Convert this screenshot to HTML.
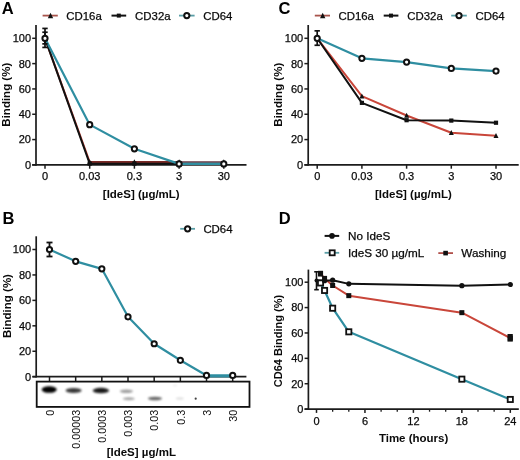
<!DOCTYPE html>
<html><head><meta charset="utf-8"><style>
html,body{margin:0;padding:0;background:#fff;}
body{width:520px;height:460px;overflow:hidden;font-family:"Liberation Sans", sans-serif;}
svg{display:block;will-change:transform;}
</style></head><body>
<svg width="520" height="460" viewBox="0 0 520 460" font-family='"Liberation Sans", sans-serif'>
<rect width="520" height="460" fill="#fff"/>
<text x="1.70" y="13.90" font-size="16.5" font-weight="bold" text-anchor="start" fill="#000" >A</text>
<line x1="42.60" y1="15.60" x2="57.80" y2="15.60" stroke="#a8544c" stroke-width="1.8" />
<polygon points="50.50,12.83 53.20,18.23 47.80,18.23" fill="#111"/>
<text x="66.30" y="19.80" font-size="11.4" font-weight="normal" text-anchor="start" fill="#0a0a0a" stroke="#0a0a0a" stroke-width="0.25" >CD16a</text>
<line x1="111.50" y1="15.60" x2="126.20" y2="15.60" stroke="#111" stroke-width="2.0" />
<rect x="116.80" y="13.60" width="4.0" height="4.0" fill="#111"/>
<text x="135.10" y="19.80" font-size="11.4" font-weight="normal" text-anchor="start" fill="#0a0a0a" stroke="#0a0a0a" stroke-width="0.25" >CD32a</text>
<line x1="179.00" y1="15.60" x2="194.60" y2="15.60" stroke="#5a9ea6" stroke-width="1.8" />
<circle cx="186.80" cy="15.60" r="2.6" fill="#fff" stroke="#111" stroke-width="2.0"/>
<text x="203.30" y="19.80" font-size="11.4" font-weight="normal" text-anchor="start" fill="#0a0a0a" stroke="#0a0a0a" stroke-width="0.25" >CD64</text>
<line x1="36.00" y1="25.00" x2="36.00" y2="165.70" stroke="#1c1c1c" stroke-width="1.7" />
<line x1="32.20" y1="164.90" x2="246.50" y2="164.90" stroke="#1c1c1c" stroke-width="1.8" />
<line x1="32.20" y1="164.90" x2="36.00" y2="164.90" stroke="#1c1c1c" stroke-width="1.5" />
<text x="31.00" y="168.80" font-size="11" font-weight="normal" text-anchor="end" fill="#0a0a0a" stroke="#0a0a0a" stroke-width="0.25" >0</text>
<line x1="32.20" y1="139.58" x2="36.00" y2="139.58" stroke="#1c1c1c" stroke-width="1.5" />
<text x="31.00" y="143.48" font-size="11" font-weight="normal" text-anchor="end" fill="#0a0a0a" stroke="#0a0a0a" stroke-width="0.25" >20</text>
<line x1="32.20" y1="114.26" x2="36.00" y2="114.26" stroke="#1c1c1c" stroke-width="1.5" />
<text x="31.00" y="118.16" font-size="11" font-weight="normal" text-anchor="end" fill="#0a0a0a" stroke="#0a0a0a" stroke-width="0.25" >40</text>
<line x1="32.20" y1="88.94" x2="36.00" y2="88.94" stroke="#1c1c1c" stroke-width="1.5" />
<text x="31.00" y="92.84" font-size="11" font-weight="normal" text-anchor="end" fill="#0a0a0a" stroke="#0a0a0a" stroke-width="0.25" >60</text>
<line x1="32.20" y1="63.62" x2="36.00" y2="63.62" stroke="#1c1c1c" stroke-width="1.5" />
<text x="31.00" y="67.52" font-size="11" font-weight="normal" text-anchor="end" fill="#0a0a0a" stroke="#0a0a0a" stroke-width="0.25" >80</text>
<line x1="32.20" y1="38.30" x2="36.00" y2="38.30" stroke="#1c1c1c" stroke-width="1.5" />
<text x="31.00" y="42.20" font-size="11" font-weight="normal" text-anchor="end" fill="#0a0a0a" stroke="#0a0a0a" stroke-width="0.25" >100</text>
<line x1="45.00" y1="164.90" x2="45.00" y2="168.70" stroke="#1c1c1c" stroke-width="1.5" />
<text x="45.00" y="180.20" font-size="11" font-weight="normal" text-anchor="middle" fill="#0a0a0a" stroke="#0a0a0a" stroke-width="0.25" >0</text>
<line x1="89.70" y1="164.90" x2="89.70" y2="168.70" stroke="#1c1c1c" stroke-width="1.5" />
<text x="89.70" y="180.20" font-size="11" font-weight="normal" text-anchor="middle" fill="#0a0a0a" stroke="#0a0a0a" stroke-width="0.25" >0.03</text>
<line x1="134.40" y1="164.90" x2="134.40" y2="168.70" stroke="#1c1c1c" stroke-width="1.5" />
<text x="134.40" y="180.20" font-size="11" font-weight="normal" text-anchor="middle" fill="#0a0a0a" stroke="#0a0a0a" stroke-width="0.25" >0.3</text>
<line x1="179.10" y1="164.90" x2="179.10" y2="168.70" stroke="#1c1c1c" stroke-width="1.5" />
<text x="179.10" y="180.20" font-size="11" font-weight="normal" text-anchor="middle" fill="#0a0a0a" stroke="#0a0a0a" stroke-width="0.25" >3</text>
<line x1="223.80" y1="164.90" x2="223.80" y2="168.70" stroke="#1c1c1c" stroke-width="1.5" />
<text x="223.80" y="180.20" font-size="11" font-weight="normal" text-anchor="middle" fill="#0a0a0a" stroke="#0a0a0a" stroke-width="0.25" >30</text>
<text x="141.25" y="198.20" font-size="11.5" font-weight="bold" text-anchor="middle" fill="#0a0a0a" >[IdeS] (µg/mL)</text>
<text x="0" y="0" font-size="11.5" font-weight="bold" text-anchor="middle" fill="#0a0a0a" transform="translate(10.30,94.7) rotate(-90)">Binding (%)</text>
<polyline points="45.00,38.30 89.70,161.99 134.40,161.99 179.10,161.99 223.80,161.99" fill="none" stroke="#c9463a" stroke-width="2.0" stroke-linejoin="round"/>
<polyline points="89.70,161.99 134.40,161.99 179.10,161.99" fill="none" stroke="#7a2a26" stroke-width="2.0" stroke-linejoin="round"/>
<polyline points="179.10,161.99 223.80,161.99" fill="none" stroke="#8c6872" stroke-width="2.0" stroke-linejoin="round"/>
<polyline points="45.00,38.30 89.70,163.63 134.40,163.63 179.10,163.63 223.80,163.63" fill="none" stroke="#111" stroke-width="2.0" stroke-linejoin="round"/>
<polyline points="45.00,38.30 89.70,124.64 134.40,148.82 179.10,163.89 223.80,163.89" fill="none" stroke="#2f8ea1" stroke-width="2.2" stroke-linejoin="round"/>
<line x1="45.00" y1="28.43" x2="45.00" y2="47.42" stroke="#111" stroke-width="1.7" />
<line x1="42.30" y1="28.43" x2="47.70" y2="28.43" stroke="#111" stroke-width="1.7" />
<line x1="42.30" y1="47.42" x2="47.70" y2="47.42" stroke="#111" stroke-width="1.7" />
<line x1="45.00" y1="32.22" x2="45.00" y2="43.87" stroke="#111" stroke-width="1.7" />
<line x1="42.30" y1="32.22" x2="47.70" y2="32.22" stroke="#111" stroke-width="1.7" />
<line x1="42.30" y1="43.87" x2="47.70" y2="43.87" stroke="#111" stroke-width="1.7" />
<rect x="42.90" y="36.20" width="4.2" height="4.2" fill="#111"/>
<rect x="87.60" y="161.53" width="4.2" height="4.2" fill="#111"/>
<rect x="132.30" y="161.53" width="4.2" height="4.2" fill="#111"/>
<rect x="177.00" y="161.53" width="4.2" height="4.2" fill="#111"/>
<rect x="221.70" y="161.53" width="4.2" height="4.2" fill="#111"/>
<polygon points="45.00,35.55 47.50,40.55 42.50,40.55" fill="#111"/>
<polygon points="89.70,159.24 92.20,164.24 87.20,164.24" fill="#111"/>
<polygon points="134.40,159.24 136.90,164.24 131.90,164.24" fill="#111"/>
<polygon points="179.10,159.24 181.60,164.24 176.60,164.24" fill="#111"/>
<polygon points="223.80,159.24 226.30,164.24 221.30,164.24" fill="#111"/>
<circle cx="45.00" cy="38.30" r="2.6" fill="#fff" stroke="#111" stroke-width="2.0"/>
<circle cx="89.70" cy="124.64" r="2.6" fill="#fff" stroke="#111" stroke-width="2.0"/>
<circle cx="134.40" cy="148.82" r="2.6" fill="#fff" stroke="#111" stroke-width="2.0"/>
<circle cx="179.10" cy="163.89" r="2.6" fill="#fff" stroke="#111" stroke-width="2.0"/>
<circle cx="223.80" cy="163.89" r="2.6" fill="#fff" stroke="#111" stroke-width="2.0"/>
<text x="278.50" y="13.90" font-size="16.5" font-weight="bold" text-anchor="start" fill="#000" >C</text>
<line x1="314.80" y1="15.60" x2="330.00" y2="15.60" stroke="#a8544c" stroke-width="1.8" />
<polygon points="322.70,12.83 325.40,18.23 320.00,18.23" fill="#111"/>
<text x="338.50" y="19.80" font-size="11.4" font-weight="normal" text-anchor="start" fill="#0a0a0a" stroke="#0a0a0a" stroke-width="0.25" >CD16a</text>
<line x1="383.70" y1="15.60" x2="398.40" y2="15.60" stroke="#111" stroke-width="2.0" />
<rect x="389.00" y="13.60" width="4.0" height="4.0" fill="#111"/>
<text x="407.30" y="19.80" font-size="11.4" font-weight="normal" text-anchor="start" fill="#0a0a0a" stroke="#0a0a0a" stroke-width="0.25" >CD32a</text>
<line x1="451.20" y1="15.60" x2="466.80" y2="15.60" stroke="#5a9ea6" stroke-width="1.8" />
<circle cx="459.00" cy="15.60" r="2.6" fill="#fff" stroke="#111" stroke-width="2.0"/>
<text x="475.50" y="19.80" font-size="11.4" font-weight="normal" text-anchor="start" fill="#0a0a0a" stroke="#0a0a0a" stroke-width="0.25" >CD64</text>
<line x1="308.20" y1="25.00" x2="308.20" y2="165.70" stroke="#1c1c1c" stroke-width="1.7" />
<line x1="304.40" y1="164.90" x2="518.70" y2="164.90" stroke="#1c1c1c" stroke-width="1.8" />
<line x1="304.40" y1="164.90" x2="308.20" y2="164.90" stroke="#1c1c1c" stroke-width="1.5" />
<text x="303.20" y="168.80" font-size="11" font-weight="normal" text-anchor="end" fill="#0a0a0a" stroke="#0a0a0a" stroke-width="0.25" >0</text>
<line x1="304.40" y1="139.58" x2="308.20" y2="139.58" stroke="#1c1c1c" stroke-width="1.5" />
<text x="303.20" y="143.48" font-size="11" font-weight="normal" text-anchor="end" fill="#0a0a0a" stroke="#0a0a0a" stroke-width="0.25" >20</text>
<line x1="304.40" y1="114.26" x2="308.20" y2="114.26" stroke="#1c1c1c" stroke-width="1.5" />
<text x="303.20" y="118.16" font-size="11" font-weight="normal" text-anchor="end" fill="#0a0a0a" stroke="#0a0a0a" stroke-width="0.25" >40</text>
<line x1="304.40" y1="88.94" x2="308.20" y2="88.94" stroke="#1c1c1c" stroke-width="1.5" />
<text x="303.20" y="92.84" font-size="11" font-weight="normal" text-anchor="end" fill="#0a0a0a" stroke="#0a0a0a" stroke-width="0.25" >60</text>
<line x1="304.40" y1="63.62" x2="308.20" y2="63.62" stroke="#1c1c1c" stroke-width="1.5" />
<text x="303.20" y="67.52" font-size="11" font-weight="normal" text-anchor="end" fill="#0a0a0a" stroke="#0a0a0a" stroke-width="0.25" >80</text>
<line x1="304.40" y1="38.30" x2="308.20" y2="38.30" stroke="#1c1c1c" stroke-width="1.5" />
<text x="303.20" y="42.20" font-size="11" font-weight="normal" text-anchor="end" fill="#0a0a0a" stroke="#0a0a0a" stroke-width="0.25" >100</text>
<line x1="317.20" y1="164.90" x2="317.20" y2="168.70" stroke="#1c1c1c" stroke-width="1.5" />
<text x="317.20" y="180.20" font-size="11" font-weight="normal" text-anchor="middle" fill="#0a0a0a" stroke="#0a0a0a" stroke-width="0.25" >0</text>
<line x1="361.90" y1="164.90" x2="361.90" y2="168.70" stroke="#1c1c1c" stroke-width="1.5" />
<text x="361.90" y="180.20" font-size="11" font-weight="normal" text-anchor="middle" fill="#0a0a0a" stroke="#0a0a0a" stroke-width="0.25" >0.03</text>
<line x1="406.60" y1="164.90" x2="406.60" y2="168.70" stroke="#1c1c1c" stroke-width="1.5" />
<text x="406.60" y="180.20" font-size="11" font-weight="normal" text-anchor="middle" fill="#0a0a0a" stroke="#0a0a0a" stroke-width="0.25" >0.3</text>
<line x1="451.30" y1="164.90" x2="451.30" y2="168.70" stroke="#1c1c1c" stroke-width="1.5" />
<text x="451.30" y="180.20" font-size="11" font-weight="normal" text-anchor="middle" fill="#0a0a0a" stroke="#0a0a0a" stroke-width="0.25" >3</text>
<line x1="496.00" y1="164.90" x2="496.00" y2="168.70" stroke="#1c1c1c" stroke-width="1.5" />
<text x="496.00" y="180.20" font-size="11" font-weight="normal" text-anchor="middle" fill="#0a0a0a" stroke="#0a0a0a" stroke-width="0.25" >30</text>
<text x="413.45" y="198.20" font-size="11.5" font-weight="bold" text-anchor="middle" fill="#0a0a0a" >[IdeS] (µg/mL)</text>
<text x="0" y="0" font-size="11.5" font-weight="bold" text-anchor="middle" fill="#0a0a0a" transform="translate(281.60,94.7) rotate(-90)">Binding (%)</text>
<polyline points="317.20,38.30 361.90,96.16 406.60,115.53 451.30,132.74 496.00,135.66" fill="none" stroke="#c9463a" stroke-width="2.0" stroke-linejoin="round"/>
<polyline points="317.20,38.30 361.90,102.87 406.60,120.21 451.30,120.59 496.00,122.74" fill="none" stroke="#111" stroke-width="2.0" stroke-linejoin="round"/>
<polyline points="317.20,38.30 361.90,58.30 406.60,62.10 451.30,68.43 496.00,71.09" fill="none" stroke="#2f8ea1" stroke-width="2.2" stroke-linejoin="round"/>
<line x1="317.20" y1="30.83" x2="317.20" y2="45.26" stroke="#111" stroke-width="1.7" />
<line x1="314.50" y1="30.83" x2="319.90" y2="30.83" stroke="#111" stroke-width="1.7" />
<line x1="314.50" y1="45.26" x2="319.90" y2="45.26" stroke="#111" stroke-width="1.7" />
<rect x="315.10" y="36.20" width="4.2" height="4.2" fill="#111"/>
<rect x="359.80" y="100.77" width="4.2" height="4.2" fill="#111"/>
<rect x="404.50" y="118.11" width="4.2" height="4.2" fill="#111"/>
<rect x="449.20" y="118.49" width="4.2" height="4.2" fill="#111"/>
<rect x="493.90" y="120.64" width="4.2" height="4.2" fill="#111"/>
<polygon points="317.20,35.55 319.70,40.55 314.70,40.55" fill="#111"/>
<polygon points="361.90,93.41 364.40,98.41 359.40,98.41" fill="#111"/>
<polygon points="406.60,112.78 409.10,117.78 404.10,117.78" fill="#111"/>
<polygon points="451.30,129.99 453.80,134.99 448.80,134.99" fill="#111"/>
<polygon points="496.00,132.91 498.50,137.91 493.50,137.91" fill="#111"/>
<circle cx="317.20" cy="38.30" r="2.6" fill="#fff" stroke="#111" stroke-width="2.0"/>
<circle cx="361.90" cy="58.30" r="2.6" fill="#fff" stroke="#111" stroke-width="2.0"/>
<circle cx="406.60" cy="62.10" r="2.6" fill="#fff" stroke="#111" stroke-width="2.0"/>
<circle cx="451.30" cy="68.43" r="2.6" fill="#fff" stroke="#111" stroke-width="2.0"/>
<circle cx="496.00" cy="71.09" r="2.6" fill="#fff" stroke="#111" stroke-width="2.0"/>
<text x="2.60" y="224.00" font-size="16.5" font-weight="bold" text-anchor="start" fill="#000" >B</text>
<line x1="180.20" y1="228.80" x2="195.00" y2="228.80" stroke="#5a9ea6" stroke-width="1.8" />
<circle cx="187.60" cy="228.80" r="2.6" fill="#fff" stroke="#111" stroke-width="2.0"/>
<text x="203.40" y="232.90" font-size="11.4" font-weight="normal" text-anchor="start" fill="#0a0a0a" stroke="#0a0a0a" stroke-width="0.25" >CD64</text>
<line x1="36.20" y1="236.30" x2="36.20" y2="377.50" stroke="#1c1c1c" stroke-width="1.7" />
<line x1="32.40" y1="376.70" x2="246.40" y2="376.70" stroke="#1c1c1c" stroke-width="1.8" />
<line x1="32.40" y1="376.70" x2="36.20" y2="376.70" stroke="#1c1c1c" stroke-width="1.5" />
<text x="31.20" y="380.60" font-size="11" font-weight="normal" text-anchor="end" fill="#0a0a0a" stroke="#0a0a0a" stroke-width="0.25" >0</text>
<line x1="32.40" y1="351.26" x2="36.20" y2="351.26" stroke="#1c1c1c" stroke-width="1.5" />
<text x="31.20" y="355.16" font-size="11" font-weight="normal" text-anchor="end" fill="#0a0a0a" stroke="#0a0a0a" stroke-width="0.25" >20</text>
<line x1="32.40" y1="325.82" x2="36.20" y2="325.82" stroke="#1c1c1c" stroke-width="1.5" />
<text x="31.20" y="329.72" font-size="11" font-weight="normal" text-anchor="end" fill="#0a0a0a" stroke="#0a0a0a" stroke-width="0.25" >40</text>
<line x1="32.40" y1="300.38" x2="36.20" y2="300.38" stroke="#1c1c1c" stroke-width="1.5" />
<text x="31.20" y="304.28" font-size="11" font-weight="normal" text-anchor="end" fill="#0a0a0a" stroke="#0a0a0a" stroke-width="0.25" >60</text>
<line x1="32.40" y1="274.94" x2="36.20" y2="274.94" stroke="#1c1c1c" stroke-width="1.5" />
<text x="31.20" y="278.84" font-size="11" font-weight="normal" text-anchor="end" fill="#0a0a0a" stroke="#0a0a0a" stroke-width="0.25" >80</text>
<line x1="32.40" y1="249.50" x2="36.20" y2="249.50" stroke="#1c1c1c" stroke-width="1.5" />
<text x="31.20" y="253.40" font-size="11" font-weight="normal" text-anchor="end" fill="#0a0a0a" stroke="#0a0a0a" stroke-width="0.25" >100</text>
<line x1="49.50" y1="376.70" x2="49.50" y2="381.00" stroke="#1c1c1c" stroke-width="1.5" />
<line x1="75.67" y1="376.70" x2="75.67" y2="381.00" stroke="#1c1c1c" stroke-width="1.5" />
<line x1="101.84" y1="376.70" x2="101.84" y2="381.00" stroke="#1c1c1c" stroke-width="1.5" />
<line x1="128.01" y1="376.70" x2="128.01" y2="381.00" stroke="#1c1c1c" stroke-width="1.5" />
<line x1="154.18" y1="376.70" x2="154.18" y2="381.00" stroke="#1c1c1c" stroke-width="1.5" />
<line x1="180.35" y1="376.70" x2="180.35" y2="381.00" stroke="#1c1c1c" stroke-width="1.5" />
<line x1="206.52" y1="376.70" x2="206.52" y2="381.00" stroke="#1c1c1c" stroke-width="1.5" />
<line x1="232.69" y1="376.70" x2="232.69" y2="381.00" stroke="#1c1c1c" stroke-width="1.5" />
<rect x="36.7" y="381.6" width="212.8" height="25.3" fill="#fff" stroke="#111" stroke-width="1.8"/>
<defs><filter id="bl" x="-50%" y="-100%" width="200%" height="300%"><feGaussianBlur stdDeviation="1.3"/></filter></defs>
<ellipse cx="49.20" cy="389.60" rx="7.50" ry="3.25" fill="#000" opacity="1.0" filter="url(#bl)"/>
<ellipse cx="73.60" cy="390.40" rx="8.00" ry="2.50" fill="#000" opacity="0.78" filter="url(#bl)"/>
<ellipse cx="100.90" cy="390.60" rx="8.25" ry="2.75" fill="#000" opacity="0.9" filter="url(#bl)"/>
<ellipse cx="126.40" cy="391.20" rx="6.50" ry="1.75" fill="#000" opacity="0.38" filter="url(#bl)"/>
<ellipse cx="128.80" cy="398.80" rx="6.00" ry="1.50" fill="#000" opacity="0.36" filter="url(#bl)"/>
<ellipse cx="155.00" cy="398.60" rx="7.00" ry="1.75" fill="#000" opacity="0.6" filter="url(#bl)"/>
<ellipse cx="179.80" cy="398.60" rx="4.00" ry="1.00" fill="#000" opacity="0.15" filter="url(#bl)"/>
<ellipse cx="175.00" cy="385.50" rx="2.00" ry="0.75" fill="#000" opacity="0.1" filter="url(#bl)"/>
<circle cx="195.7" cy="398.7" r="1.1" fill="#222" opacity="0.85"/>
<text x="0" y="0" font-size="10.8" text-anchor="end" fill="#0a0a0a" transform="translate(53.80,409.8) rotate(-90)">0</text>
<text x="0" y="0" font-size="10.8" text-anchor="end" fill="#0a0a0a" transform="translate(79.97,409.8) rotate(-90)">0.00003</text>
<text x="0" y="0" font-size="10.8" text-anchor="end" fill="#0a0a0a" transform="translate(106.14,409.8) rotate(-90)">0.0003</text>
<text x="0" y="0" font-size="10.8" text-anchor="end" fill="#0a0a0a" transform="translate(132.31,409.8) rotate(-90)">0.003</text>
<text x="0" y="0" font-size="10.8" text-anchor="end" fill="#0a0a0a" transform="translate(158.48,409.8) rotate(-90)">0.03</text>
<text x="0" y="0" font-size="10.8" text-anchor="end" fill="#0a0a0a" transform="translate(184.65,409.8) rotate(-90)">0.3</text>
<text x="0" y="0" font-size="10.8" text-anchor="end" fill="#0a0a0a" transform="translate(210.82,409.8) rotate(-90)">3</text>
<text x="0" y="0" font-size="10.8" text-anchor="end" fill="#0a0a0a" transform="translate(236.99,409.8) rotate(-90)">30</text>
<text x="141.30" y="456.00" font-size="11.5" font-weight="bold" text-anchor="middle" fill="#0a0a0a" >[IdeS] µg/mL</text>
<text x="0" y="0" font-size="11.5" font-weight="bold" text-anchor="middle" fill="#0a0a0a" transform="translate(11.4,306) rotate(-90)">Binding (%)</text>
<polyline points="49.50,249.50 75.67,261.33 101.84,268.83 128.01,316.79 154.18,343.76 180.35,360.29 206.52,375.43 232.69,375.43" fill="none" stroke="#2f8ea1" stroke-width="2.2" stroke-linejoin="round"/>
<line x1="206.52" y1="376.43" x2="232.69" y2="376.43" stroke="#2f8ea1" stroke-width="2.0" />
<line x1="49.50" y1="242.50" x2="49.50" y2="256.50" stroke="#111" stroke-width="1.8" />
<line x1="46.50" y1="242.50" x2="52.50" y2="242.50" stroke="#111" stroke-width="1.8" />
<line x1="46.50" y1="256.50" x2="52.50" y2="256.50" stroke="#111" stroke-width="1.8" />
<circle cx="49.50" cy="249.50" r="2.6" fill="#fff" stroke="#111" stroke-width="2.0"/>
<circle cx="75.67" cy="261.33" r="2.6" fill="#fff" stroke="#111" stroke-width="2.0"/>
<circle cx="101.84" cy="268.83" r="2.6" fill="#fff" stroke="#111" stroke-width="2.0"/>
<circle cx="128.01" cy="316.79" r="2.6" fill="#fff" stroke="#111" stroke-width="2.0"/>
<circle cx="154.18" cy="343.76" r="2.6" fill="#fff" stroke="#111" stroke-width="2.0"/>
<circle cx="180.35" cy="360.29" r="2.6" fill="#fff" stroke="#111" stroke-width="2.0"/>
<circle cx="206.52" cy="375.43" r="2.6" fill="#fff" stroke="#111" stroke-width="2.0"/>
<circle cx="232.69" cy="375.43" r="2.6" fill="#fff" stroke="#111" stroke-width="2.0"/>
<text x="278.80" y="224.20" font-size="16.5" font-weight="bold" text-anchor="start" fill="#000" >D</text>
<line x1="324.60" y1="235.90" x2="339.20" y2="235.90" stroke="#111" stroke-width="2.0" />
<circle cx="332.00" cy="235.90" r="2.8" fill="#111"/>
<text x="348.00" y="240.10" font-size="11.7" font-weight="normal" text-anchor="start" fill="#0a0a0a" stroke="#0a0a0a" stroke-width="0.25" >No IdeS</text>
<line x1="324.60" y1="252.80" x2="339.20" y2="252.80" stroke="#5a9ea6" stroke-width="1.8" />
<rect x="329.70" y="250.30" width="5.0" height="5.0" fill="#fff" stroke="#111" stroke-width="1.8"/>
<text x="348.00" y="257.10" font-size="11.7" font-weight="normal" text-anchor="start" fill="#0a0a0a" stroke="#0a0a0a" stroke-width="0.25" >IdeS 30 µg/mL</text>
<line x1="438.30" y1="253.10" x2="453.00" y2="253.10" stroke="#b0504a" stroke-width="1.8" />
<rect x="443.30" y="250.80" width="4.6" height="4.6" fill="#111"/>
<text x="461.30" y="256.90" font-size="11.7" font-weight="normal" text-anchor="start" fill="#0a0a0a" stroke="#0a0a0a" stroke-width="0.25" >Washing</text>
<line x1="308.40" y1="269.60" x2="308.40" y2="409.90" stroke="#1c1c1c" stroke-width="1.7" />
<line x1="304.60" y1="409.10" x2="518.80" y2="409.10" stroke="#1c1c1c" stroke-width="1.8" />
<line x1="304.60" y1="409.10" x2="308.40" y2="409.10" stroke="#1c1c1c" stroke-width="1.5" />
<text x="303.40" y="413.00" font-size="11" font-weight="normal" text-anchor="end" fill="#0a0a0a" stroke="#0a0a0a" stroke-width="0.25" >0</text>
<line x1="304.60" y1="383.72" x2="308.40" y2="383.72" stroke="#1c1c1c" stroke-width="1.5" />
<text x="303.40" y="387.62" font-size="11" font-weight="normal" text-anchor="end" fill="#0a0a0a" stroke="#0a0a0a" stroke-width="0.25" >20</text>
<line x1="304.60" y1="358.34" x2="308.40" y2="358.34" stroke="#1c1c1c" stroke-width="1.5" />
<text x="303.40" y="362.24" font-size="11" font-weight="normal" text-anchor="end" fill="#0a0a0a" stroke="#0a0a0a" stroke-width="0.25" >40</text>
<line x1="304.60" y1="332.96" x2="308.40" y2="332.96" stroke="#1c1c1c" stroke-width="1.5" />
<text x="303.40" y="336.86" font-size="11" font-weight="normal" text-anchor="end" fill="#0a0a0a" stroke="#0a0a0a" stroke-width="0.25" >60</text>
<line x1="304.60" y1="307.58" x2="308.40" y2="307.58" stroke="#1c1c1c" stroke-width="1.5" />
<text x="303.40" y="311.48" font-size="11" font-weight="normal" text-anchor="end" fill="#0a0a0a" stroke="#0a0a0a" stroke-width="0.25" >80</text>
<line x1="304.60" y1="282.20" x2="308.40" y2="282.20" stroke="#1c1c1c" stroke-width="1.5" />
<text x="303.40" y="286.10" font-size="11" font-weight="normal" text-anchor="end" fill="#0a0a0a" stroke="#0a0a0a" stroke-width="0.25" >100</text>
<line x1="316.50" y1="409.10" x2="316.50" y2="412.90" stroke="#1c1c1c" stroke-width="1.5" />
<text x="316.50" y="424.90" font-size="11" font-weight="normal" text-anchor="middle" fill="#0a0a0a" stroke="#0a0a0a" stroke-width="0.25" >0</text>
<line x1="332.65" y1="409.10" x2="332.65" y2="411.70" stroke="#1c1c1c" stroke-width="1.3" />
<line x1="348.80" y1="409.10" x2="348.80" y2="411.70" stroke="#1c1c1c" stroke-width="1.3" />
<line x1="364.95" y1="409.10" x2="364.95" y2="412.90" stroke="#1c1c1c" stroke-width="1.5" />
<text x="364.95" y="424.90" font-size="11" font-weight="normal" text-anchor="middle" fill="#0a0a0a" stroke="#0a0a0a" stroke-width="0.25" >6</text>
<line x1="381.10" y1="409.10" x2="381.10" y2="411.70" stroke="#1c1c1c" stroke-width="1.3" />
<line x1="397.25" y1="409.10" x2="397.25" y2="411.70" stroke="#1c1c1c" stroke-width="1.3" />
<line x1="413.40" y1="409.10" x2="413.40" y2="412.90" stroke="#1c1c1c" stroke-width="1.5" />
<text x="413.40" y="424.90" font-size="11" font-weight="normal" text-anchor="middle" fill="#0a0a0a" stroke="#0a0a0a" stroke-width="0.25" >12</text>
<line x1="429.55" y1="409.10" x2="429.55" y2="411.70" stroke="#1c1c1c" stroke-width="1.3" />
<line x1="445.70" y1="409.10" x2="445.70" y2="411.70" stroke="#1c1c1c" stroke-width="1.3" />
<line x1="461.85" y1="409.10" x2="461.85" y2="412.90" stroke="#1c1c1c" stroke-width="1.5" />
<text x="461.85" y="424.90" font-size="11" font-weight="normal" text-anchor="middle" fill="#0a0a0a" stroke="#0a0a0a" stroke-width="0.25" >18</text>
<line x1="478.00" y1="409.10" x2="478.00" y2="411.70" stroke="#1c1c1c" stroke-width="1.3" />
<line x1="494.15" y1="409.10" x2="494.15" y2="411.70" stroke="#1c1c1c" stroke-width="1.3" />
<line x1="510.30" y1="409.10" x2="510.30" y2="412.90" stroke="#1c1c1c" stroke-width="1.5" />
<text x="510.30" y="424.90" font-size="11" font-weight="normal" text-anchor="middle" fill="#0a0a0a" stroke="#0a0a0a" stroke-width="0.25" >24</text>
<text x="413.60" y="442.30" font-size="11.5" font-weight="bold" text-anchor="middle" fill="#0a0a0a" >Time (hours)</text>
<text x="0" y="0" font-size="11" font-weight="bold" text-anchor="middle" fill="#0a0a0a" transform="translate(281.7,341) rotate(-90)">CD64 Binding (%)</text>
<polyline points="320.54,282.96 324.57,290.45 332.65,308.21 348.80,331.82 461.85,379.15 510.30,399.46" fill="none" stroke="#2f8ea1" stroke-width="2.2" stroke-linejoin="round"/>
<polyline points="320.54,273.57 324.57,278.39 332.65,285.50 348.80,295.65 461.85,312.66 510.30,338.16" fill="none" stroke="#c9463a" stroke-width="2.0" stroke-linejoin="round"/>
<polyline points="316.50,280.55 324.57,280.68 332.65,280.17 348.80,283.85 461.85,285.63 510.30,284.48" fill="none" stroke="#111" stroke-width="2.0" stroke-linejoin="round"/>
<line x1="316.50" y1="271.79" x2="316.50" y2="289.69" stroke="#111" stroke-width="1.6" />
<line x1="314.20" y1="271.79" x2="318.80" y2="271.79" stroke="#111" stroke-width="1.6" />
<line x1="314.20" y1="289.69" x2="318.80" y2="289.69" stroke="#111" stroke-width="1.6" />
<rect x="317.94" y="280.36" width="5.2" height="5.2" fill="#fff" stroke="#111" stroke-width="1.8"/>
<rect x="321.97" y="287.85" width="5.2" height="5.2" fill="#fff" stroke="#111" stroke-width="1.8"/>
<rect x="330.05" y="305.61" width="5.2" height="5.2" fill="#fff" stroke="#111" stroke-width="1.8"/>
<rect x="346.20" y="329.22" width="5.2" height="5.2" fill="#fff" stroke="#111" stroke-width="1.8"/>
<rect x="459.25" y="376.55" width="5.2" height="5.2" fill="#fff" stroke="#111" stroke-width="1.8"/>
<rect x="507.70" y="396.86" width="5.2" height="5.2" fill="#fff" stroke="#111" stroke-width="1.8"/>
<rect x="318.04" y="271.07" width="5.0" height="5.0" fill="#111"/>
<rect x="322.07" y="275.89" width="5.0" height="5.0" fill="#111"/>
<rect x="330.15" y="283.00" width="5.0" height="5.0" fill="#111"/>
<rect x="346.30" y="293.15" width="5.0" height="5.0" fill="#111"/>
<rect x="459.35" y="310.16" width="5.0" height="5.0" fill="#111"/>
<rect x="507.80" y="335.66" width="5.0" height="5.0" fill="#111"/>
<rect x="318.04" y="270.8" width="5" height="5.7" fill="#111"/>
<rect x="507.5" y="334.0" width="5.3" height="7.6" fill="#111"/>
<circle cx="316.50" cy="280.55" r="2.0" fill="#111"/>
<circle cx="324.57" cy="280.68" r="2.6" fill="#111"/>
<circle cx="332.65" cy="280.17" r="2.6" fill="#111"/>
<circle cx="348.80" cy="283.85" r="2.6" fill="#111"/>
<circle cx="461.85" cy="285.63" r="2.6" fill="#111"/>
<circle cx="510.30" cy="284.48" r="2.6" fill="#111"/>
</svg>
</body></html>
